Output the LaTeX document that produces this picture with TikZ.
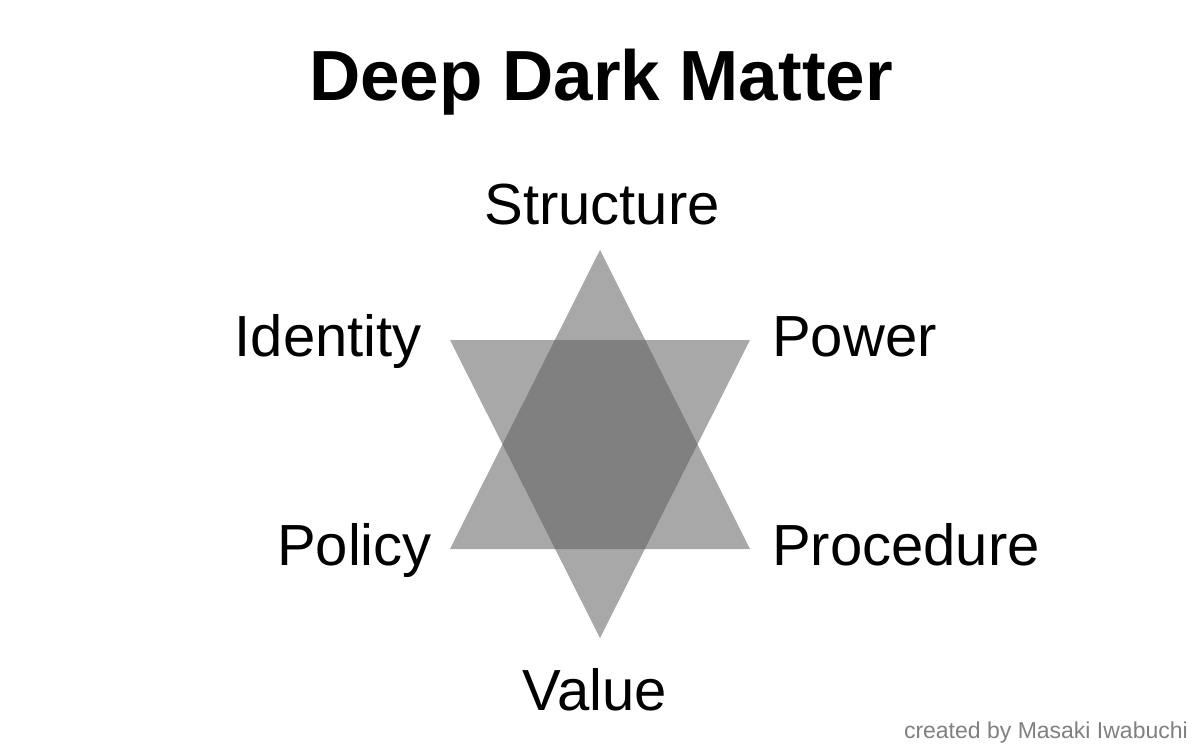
\documentclass[tikz,border=0pt]{standalone}
\usepackage{fontspec}
\setmainfont{Liberation Sans}
\begin{document}
\begin{tikzpicture}[x=1pt,y=-1pt,
  lbl/.style={font=\fontsize{58}{66}\selectfont, inner sep=0pt}]
\definecolor{light}{HTML}{A8A8A8}
\definecolor{dark}{HTML}{808080}
\useasboundingbox (0,0) rectangle (1200,750);
\coordinate (u1) at (600,250); \coordinate (u2) at (450,549); \coordinate (u3) at (750,549);
\coordinate (d1) at (450,340); \coordinate (d2) at (750,340); \coordinate (d3) at (600,638);
\fill[light] (u1)--(u2)--(u3)--cycle;
\fill[light] (d1)--(d2)--(d3)--cycle;
\begin{scope}
\clip (u1)--(u2)--(u3)--cycle;
\fill[dark] (d1)--(d2)--(d3)--cycle;
\end{scope}
\node[inner sep=0pt,anchor=base,font=\fontsize{71}{80}\selectfont\bfseries] (title) at (601,100) {Deep Dark Matter};
\node[lbl,anchor=base] (s) at (602,224) {Structure};
\node[lbl,anchor=base east] (i) at (422,356) {Identity};
\node[lbl,anchor=base west] (p) at (772,356) {Power};
\node[lbl,anchor=base east] (po) at (432,565) {Policy};
\node[lbl,anchor=base west] (pr) at (772,565) {Procedure};
\node[lbl,anchor=base] (v) at (595,710) {Value};
\node[inner sep=0pt,anchor=base east,text=gray,font=\fontsize{23}{27}\selectfont] (c) at (1188,738) {created by Masaki Iwabuchi};
\end{tikzpicture}
\end{document}
